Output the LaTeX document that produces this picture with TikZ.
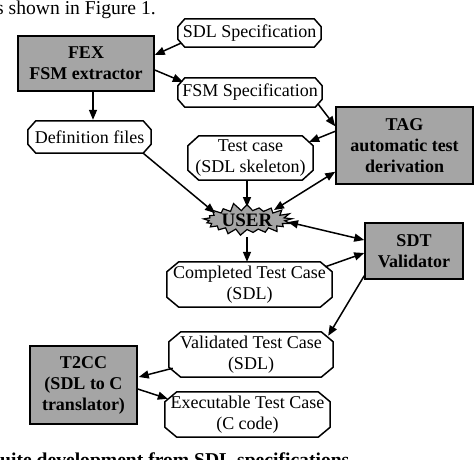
\documentclass[tikz,border=0pt]{standalone}
\usepackage{fontspec}
\setmainfont{Liberation Serif}
\usetikzlibrary{shapes.symbols,arrows.meta,calc}
\definecolor{boxgray}{RGB}{165,165,165}
\newcommand\octbox[3]{%
  \draw[docline] ($(#1.north west)+(#2,0)$) -- ($(#1.north east)+(-#2,0)$)
    -- ($(#1.north east)+(0,#3)$) -- ($(#1.south east)+(0,-#3)$)
    -- ($(#1.south east)+(-#2,0)$) -- ($(#1.south west)+(#2,0)$)
    -- ($(#1.south west)+(0,-#3)$) -- ($(#1.north west)+(0,#3)$) -- cycle;}
\begin{document}
\begin{tikzpicture}[x=1pt,y=-1pt,
  tool/.style={draw=black,line width=1.5pt,fill=boxgray,align=center,inner sep=0pt,font=\fontsize{18}{21}\selectfont\bfseries},
  doc/.style={rectangle,align=center,inner sep=0pt,font=\fontsize{18}{21}\selectfont},
  docline/.style={draw=black,line width=1.5pt,line join=miter},
  flow/.style={line width=1.5pt,-{Triangle[length=10pt,width=8pt]}},
  both/.style={line width=1.5pt,{Triangle[length=10pt,width=8pt]}-{Triangle[length=10pt,width=8pt]}},
  plain/.style={inner sep=0pt,font=\fontsize{19.6}{22}\selectfont},
]
\useasboundingbox (0,0) rectangle (474,459);
\node[plain,anchor=base west] (toptext) at (-4,14) {s shown in Figure 1.};
\node[plain,anchor=base west,font=\fontsize{19.6}{22}\selectfont\bfseries] (bottext) at (0,466) {uite development from SDL specifications};

\node[tool,minimum width=136pt,minimum height=55pt] (fex) at (86,63.5) {FEX\\FSM extractor};
\node[doc,minimum width=143pt,minimum height=28pt] (sdl) at (249.5,33) {SDL Specification};
\octbox{sdl}{7}{8}
\node[doc,minimum width=144pt,minimum height=29pt] (fsms) at (250,92.5) {FSM Specification};
\octbox{fsms}{7}{8}
\node[doc,minimum width=123pt,minimum height=32pt] (def) at (89.5,137) {Definition files};
\octbox{def}{8}{9}
\node[tool,minimum width=137pt,minimum height=77pt] (tag) at (404.5,145.5) {TAG\\automatic test\\derivation};
\node[doc,minimum width=125pt,minimum height=44pt] (test) at (250.5,158) {Test case\\(SDL skeleton)};
\octbox{test}{11}{10}
\node[starburst,starburst points=21,starburst point height=8pt,random starburst=11,draw=black,line width=1.2pt,fill=boxgray,inner sep=0pt,minimum width=92pt,minimum height=35pt,font=\fontsize{19}{21}\selectfont\bfseries] (user) at (247,220) {USER};
\node[tool,minimum width=98pt,minimum height=56pt] (sdt) at (414,251) {SDT\\Validator};
\node[doc,minimum width=165pt,minimum height=45pt] (comp) at (249.5,284.5) {Completed Test Case\\(SDL)};
\octbox{comp}{12}{10}
\node[doc,minimum width=164pt,minimum height=45pt] (val) at (251,354.5) {Validated Test Case\\(SDL)};
\octbox{val}{12}{10}
\node[tool,minimum width=107pt,minimum height=78pt] (t2cc) at (83.5,385) {T2CC\\(SDL to C\\translator)};
\node[doc,minimum width=165pt,minimum height=45pt] (exec) at (247.5,414.5) {Executable Test Case\\(C code)};
\octbox{exec}{12}{10}

\draw[flow] ($(sdl.south west)+(3,-4)$) -- ($(fex.east)+(0,-8.5)$);
\draw[flow] ($(fex.east)+(0,6.5)$) -- ($(fsms.north west)+(5,4)$);
\draw[flow] ($(fex.south)+(7,0)$) -- ($(def.north)+(3.5,-1)$);
\draw[flow] ($(fsms.south east)+(-4,-3)$) -- ($(tag.north west)+(0,20)$);
\draw[flow] ($(tag.north west)+(0,25)$) -- ($(test.north east)+(-4,6)$);
\draw[flow] ($(test.south)+(-3.5,0)$) -- ($(user.center)+(0,-13)$);
\draw[flow] ($(def.south east)+(-8,0)$) -- ($(user.center)+(-32,-7)$);
\draw[both] ($(tag.south west)+(0,-13)$) -- ($(user.center)+(27,-10)$);
\draw[both] ($(user.center)+(41,2)$) -- ($(sdt.west)+(0,-11)$);
\draw[flow] ($(user.center)+(0,17)$) -- ($(comp.north)+(-2.5,0)$);
\draw[flow] ($(comp.north east)+(-7,5)$) -- ($(sdt.west)+(0,2)$);
\draw[flow] ($(sdt.south west)+(0,-4)$) -- ($(val.north east)+(-5,4)$);
\draw[flow] ($(val.south west)+(4,-9)$) -- ($(t2cc.east)+(1,-8)$);
\draw[flow] ($(t2cc.east)+(0,4)$) -- ($(exec.north west)+(3,7)$);
\end{tikzpicture}
\end{document}
